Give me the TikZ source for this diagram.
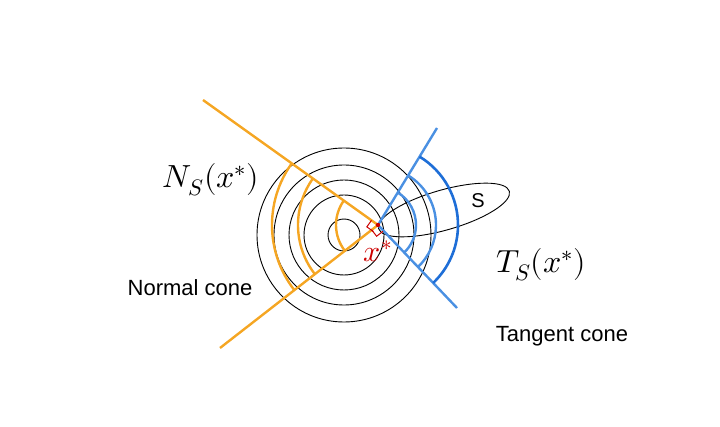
\documentclass[tikz,border=0pt]{standalone}
\usepackage{fontspec}
\usepackage{unicode-math}
\setmainfont{Liberation Sans}
\setmathfont{Latin Modern Math}
\begin{document}
\begin{tikzpicture}[x=1pt,y=-1pt,
 orng/.style={draw={rgb,255:red,245;green,166;blue,35},line width=2.4pt},
 blu/.style={draw={rgb,255:red,74;green,144;blue,226},line width=2.4pt},
 dblu/.style={draw={rgb,255:red,30;green,110;blue,215},line width=2.6pt},
 circ/.style={draw=black,line width=0.9pt}]
\useasboundingbox (0,0) rectangle (720,427);
\coordinate (c) at (344,235);
\coordinate (x) at (378,225);
\foreach \r in {87,70,55,40} \draw[circ] (c) circle[radius=\r];
\draw[circ] (c) circle[radius=16];
\draw[line width=0.9pt,rotate around={16:(444,210)}] (444,210) ellipse[x radius=68,y radius=20];
\coordinate (o1) at (203,100); \coordinate (o2) at (220,348);
\coordinate (b1) at (437,128); \coordinate (b2) at (457,308);
\draw[orng] (o1) -- (x) -- (o2);
\draw[blu] (b1) -- (x) -- (b2);
\foreach \r in {106,80,42}
 \draw[orng] (x) ++(-144.5:\r) arc[start angle=-144.5,end angle=-218,radius=\r];
\foreach \r in {58,38}
 \draw[blu] (x) ++(-58.7:\r) arc[start angle=-58.7,end angle=46.4,radius=\r];
\draw[dblu] (x) ++(-58.7:80) arc[start angle=-58.7,end angle=46.4,radius=80];
\draw[red!80!black,line width=1pt] (x) ++(-144.5:8) -- ++(-144.5+90:-8) -- ++(35.5:8);
\draw[red!80!black,line width=1pt] (x) ++(142:8) -- ++(142-90:8) -- ++(-38:8);
\fill[red!80!black] (x) circle[radius=2.2];
\node[red!80!black,font=\fontsize{30}{32}\selectfont] (xs) at (378,251) {$x^*$};
\node[font=\fontsize{32}{36}\selectfont] (ns) at (211,180) {$N_S(x^*)$};
\node[font=\fontsize{32}{36}\selectfont] (ts) at (541,265) {$T_S(x^*)$};
\node[font=\fontsize{22}{24}\selectfont] (nc) at (190,288) {Normal cone};
\node[font=\fontsize{22}{24}\selectfont] (tc) at (562,336) {Tangent cone};
\node[font=\fontsize{20}{22}\selectfont] (s) at (478,201) {S};
\end{tikzpicture}
\end{document}
